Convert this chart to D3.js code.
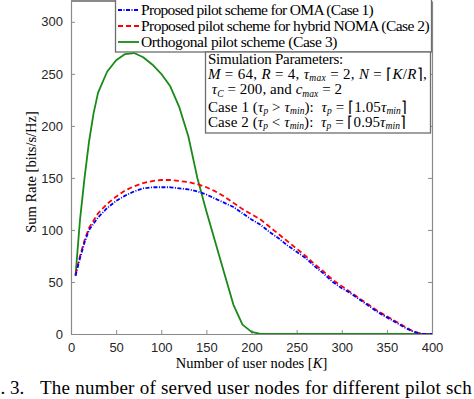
<!DOCTYPE html>
<html>
<head>
<meta charset="utf-8">
<script src="https://cdn.jsdelivr.net/npm/d3@7"></script>
<style>
  body { margin: 0; background: #fff; }
  svg { display: block; }
</style>
</head>
<body>
<div id="wrapper"></div>
<script>
const users = [5, 10, 15, 20, 30, 40, 50, 60, 70, 80, 90, 100, 110, 120, 130, 140, 150, 160, 170, 180, 190, 200,
  210, 220, 230, 240, 250, 260, 270, 280, 290, 300, 310, 320, 330, 340, 350, 360, 370, 380, 390, 400]
const omaRate = [56, 73, 88, 100, 112, 121, 128, 133, 137, 140, 141, 141, 141, 140, 139, 137, 134, 130, 126, 122, 116, 110,
  105, 98, 92, 85, 79, 73, 65, 58, 50, 44, 39, 33, 27, 21, 16, 11, 6, 2, 0, 0]
const nomaRate = [57, 75, 90, 102, 116, 125, 132, 138, 142, 145, 147, 148, 148, 147, 146, 144, 141, 137, 132, 126, 120, 115,
  110, 103, 96, 89, 82, 75, 67, 60, 52, 46, 40, 34, 28, 22, 17, 12, 7, 2, 0, 0]
const orthoUsers = [5, 10, 15, 20, 25, 30, 40, 50, 60, 70, 80, 90, 100, 110, 120, 130, 140, 150, 160, 170, 180, 190, 200, 210, 300, 400]
const orthoRate = [56, 110, 150, 185, 212, 232, 252, 263, 269, 270, 266, 259, 250, 238, 218, 190, 150, 118, 88, 58, 28, 9, 2, 0, 0, 0]

const xTicks = [0, 50, 100, 150, 200, 250, 300, 350, 400]
const yTicks = [0, 50, 100, 150, 200, 250, 300]
const legendLabels = [
  "Proposed pilot scheme for OMA (Case 1)",
  "Proposed pilot scheme for hybrid NOMA (Case 2)",
  "Orthogonal pilot scheme (Case 3)"
]

const width = 474
const height = 399
const margin = { top: 1, right: 42, bottom: 65, left: 71 }
const boundedWidth = width - margin.left - margin.right
const boundedHeight = height - margin.top - margin.bottom

const svg = d3.select("#wrapper").append("svg")
  .attr("width", width)
  .attr("height", height)

const xScale = d3.scaleLinear().domain([0, 400]).range([0, boundedWidth])
const yScale = d3.scaleLinear().domain([0, 320]).range([boundedHeight, 0])

const bounds = svg.append("g")
  .attr("transform", `translate(${margin.left},${margin.top})`)

bounds.append("clipPath").attr("id", "clip")
  .append("rect")
    .attr("width", boundedWidth)
    .attr("height", boundedHeight)

const axisColor = "#8a8a8a"
const tickFont = "'Liberation Sans', Arial, sans-serif"
const serif = "'Liberation Serif', 'Times New Roman', serif"

// stretch a text's letter spacing so it spans a given width
const fitWidth = (sel, target) => {
  const node = sel.node()
  const len = node.getComputedTextLength()
  const n = node.textContent.length
  sel.style("letter-spacing", `${(target - len) / n}px`)
}

// axes with inward ticks (matlab box style)
bounds.append("g")
  .attr("transform", `translate(0,${boundedHeight})`)
  .call(d3.axisBottom(xScale).tickValues(xTicks).tickSizeInner(-4).tickSizeOuter(0).tickPadding(9))
bounds.append("g")
  .call(d3.axisLeft(yScale).tickValues(yTicks).tickSizeInner(-4).tickSizeOuter(0).tickPadding(8))
bounds.append("g")
  .attr("transform", `translate(${boundedWidth},0)`)
  .call(d3.axisRight(yScale).tickValues(yTicks).tickSizeInner(-4).tickSizeOuter(0).tickFormat(""))
bounds.append("line")
  .attr("x1", 0).attr("x2", boundedWidth)
  .attr("y1", 0).attr("y2", 0)
  .attr("stroke", axisColor).attr("stroke-width", 2)

bounds.selectAll(".domain").attr("stroke", axisColor).attr("stroke-width", 1.2)
bounds.selectAll(".tick line").attr("stroke", axisColor)
bounds.selectAll(".tick text")
  .attr("fill", "#262626")
  .style("font-family", tickFont)
  .style("font-size", "13px")

const lineGenerator = (xs) => d3.line()
  .x((d, i) => xScale(xs[i]))
  .y(d => yScale(d))

const plot = bounds.append("g").attr("clip-path", "url(#clip)")

const series = [
  { xs: orthoUsers, ys: orthoRate, color: "#178a17", dash: null },
  { xs: users, ys: nomaRate, color: "#ff0000", dash: "5,3" },
  { xs: users, ys: omaRate, color: "#0000ff", dash: "4,1.5,1,1.5" },
]
series.forEach(s => {
  plot.append("path")
    .attr("d", lineGenerator(s.xs)(s.ys))
    .attr("fill", "none")
    .attr("stroke", s.color)
    .attr("stroke-width", 1.8)
    .attr("stroke-dasharray", s.dash)
    .attr("stroke-linejoin", "round")
})

// legend
const legendStyles = [series[2], series[1], series[0]]
const legendWidths = [232, 288, 196]
const legend = svg.append("g")
legend.append("rect")
  .attr("x", 115.5).attr("y", -6)
  .attr("width", 316).attr("height", 58)
  .attr("fill", "#fff")
  .attr("stroke", "#6e6e6e")
  .attr("stroke-width", 1.3)
legendLabels.forEach((label, i) => {
  const cy = 10 + i * 16
  legend.append("line")
    .attr("x1", 118).attr("x2", 139)
    .attr("y1", cy).attr("y2", cy)
    .attr("stroke", legendStyles[i].color)
    .attr("stroke-width", 1.8)
    .attr("stroke-dasharray", legendStyles[i].dash)
  legend.append("text")
    .attr("x", 141).attr("y", cy + 5)
    .style("font-family", serif)
    .style("font-size", "15.5px")
    .text(label)
    .call(fitWidth, legendWidths[i])
})

// simulation parameters box
const box = svg.append("g")
box.append("rect")
  .attr("x", 205.5).attr("y", 52)
  .attr("width", 225).attr("height", 81)
  .attr("fill", "#fff")
  .attr("stroke", "#6e6e6e")
  .attr("stroke-width", 1.3)

const boxLines = [
  [["Simulation Parameters:"]],
  [["M", "i"], [" = 64, "], ["R", "i"], [" = 4, "], ["τ", "i"], ["max", "s"], [" = 2, "], ["N", "i"], [" = ⌈"], ["K", "i"], ["/"], ["R", "i"], ["⌉,"]],
  [[" "], ["τ", "i"], ["C", "s"], [" = 200, and "], ["c", "i"], ["max", "s"], [" = 2"]],
  [["Case 1 ("], ["τ", "i"], ["p", "s"], [" > "], ["τ", "i"], ["min", "s"], ["):  "], ["τ", "i"], ["p", "s"], [" = ⌈1.05"], ["τ", "i"], ["min", "s"], ["⌉"]],
  [["Case 2 ("], ["τ", "i"], ["p", "s"], [" < "], ["τ", "i"], ["min", "s"], ["):  "], ["τ", "i"], ["p", "s"], [" = ⌈0.95"], ["τ", "i"], ["min", "s"], ["⌉"]],
]
const boxBaselines = [64, 78.5, 94, 111.5, 126.5]
const boxWidths = [135, 219, 134, 199, 198]
boxLines.forEach((parts, li) => {
  const t = box.append("text")
    .attr("x", 208).attr("y", boxBaselines[li])
    .attr("xml:space", "preserve")
    .style("white-space", "pre")
    .style("font-family", serif)
    .style("font-size", "15px")
  let sub = false
  parts.forEach(([str, kind]) => {
    const ts = t.append("tspan").text(str)
    if (kind === "i") ts.style("font-style", "italic")
    if (kind === "s") {
      ts.style("font-style", "italic").style("font-size", "9.5px").attr("dy", 2.5)
      sub = true
    } else if (sub) {
      ts.attr("dy", -2.5)
      sub = false
    }
  })
  t.call(fitWidth, boxWidths[li])
})

// axis titles
svg.append("text")
  .attr("x", margin.left + boundedWidth / 2).attr("y", 368)
  .attr("text-anchor", "middle")
  .style("font-family", serif)
  .style("font-size", "14.5px")
  .call(t => {
    t.append("tspan").text("Number of user nodes [")
    t.append("tspan").style("font-style", "italic").text("K")
    t.append("tspan").text("]")
  })

svg.append("text")
  .attr("transform", "translate(36,172) rotate(-90)")
  .attr("text-anchor", "middle")
  .style("font-family", serif)
  .style("font-size", "14.5px")
  .text("Sum Rate [bits/s/Hz]")

// caption, as much of it as shows in the picture
svg.append("text")
  .attr("x", 0.5).attr("y", 394)
  .attr("xml:space", "preserve")
  .style("font-family", serif)
  .style("font-size", "19px")
  .text(". 3.")
svg.append("text")
  .attr("x", 40).attr("y", 394)
  .style("font-family", serif)
  .style("font-size", "19px")
  .text("The number of served user nodes for different pilot sch")
  .call(fitWidth, 432)
</script>
</body>
</html>
